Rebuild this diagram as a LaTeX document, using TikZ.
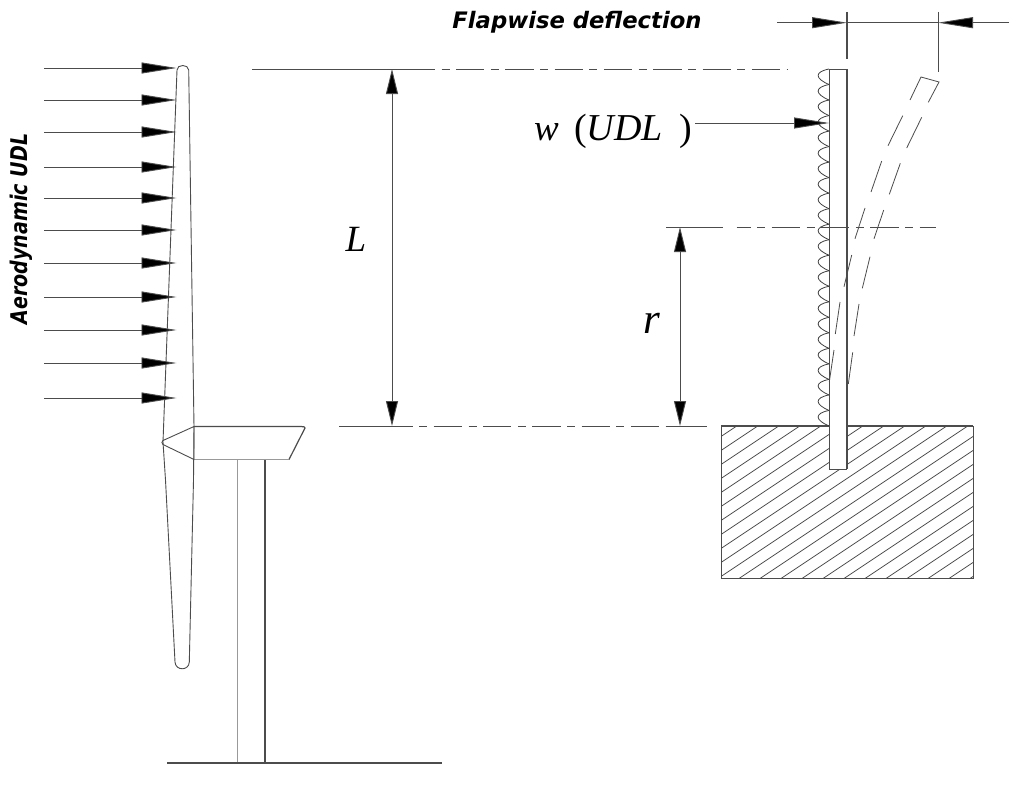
\documentclass[tikz,border=0pt]{standalone}
\usepackage{fontspec}
\setmainfont{Liberation Serif}
\newfontfamily\labelfont{DejaVu Sans}
\usetikzlibrary{arrows.meta}
\tikzset{
  thinline/.style={line width=0.9pt,black!70},
  lightline/.style={line width=1pt,black!40},
  boldline/.style={line width=1.2pt,black!70},
  headed/.style={thinline,-{Triangle[length=35pt,width=11pt,fill=black]}},
  twohead/.style={thinline,{Triangle[length=25pt,width=12pt,fill=black]}-{Triangle[length=25pt,width=12pt,fill=black]}},
  chain/.style={thinline,dash pattern=on 28.3pt off 6.5pt on 8pt off 6.5pt,dash phase=28.3pt},
  chainmid/.style={thinline,dash pattern=on 28.3pt off 6.5pt on 8pt off 6.5pt,dash phase=14.3pt},
  dashseg/.style={line width=0.8pt,black!70},
  serifit/.style={inner sep=0pt,font=\fontsize{37}{37}\selectfont\itshape},
  serifup/.style={inner sep=0pt,font=\fontsize{38}{38}\selectfont},
  boldit/.style={inner sep=0pt,font=\labelfont\bfseries\itshape\fontsize{22.7}{22.7}\selectfont},
  boldaero/.style={inner sep=0pt,font=\labelfont\bfseries\itshape\fontsize{23}{23}\selectfont},
}
\begin{document}
\begin{tikzpicture}[x=1pt,y=-1pt]
\useasboundingbox (0,0) rectangle (1024,784);
\fill[white] (0,0) rectangle (1024,784);
% ---- left: blade, hub, tower
\draw[thinline] (177,70) .. controls (177,64) and (188.5,64) .. (188.7,70) -- (194,427) -- (193.5,480) -- (189.3,662) .. controls (189,671) and (175.5,671) .. (175,662) -- (165.5,480) -- (163,442) -- cycle;
\draw[boldline] (194,426.5) -- (301,426.5) .. controls (304,426.5) and (305,427) .. (305,428) -- (289,459.5);
\draw[lightline] (289,459.5) -- (194,459.5);
\draw[thinline] (194,426.5) -- (194,459.5) -- (163,444.5) .. controls (161.5,443.5) and (161.5,441.5) .. (163,440.5) -- cycle;
\draw[lightline] (237,460) -- (237,763);
\draw[boldline] (265,460) -- (265,763);
\draw[boldline] (167,763) -- (442,763);
% wind arrows
\foreach \n/\yy in {a/68,b/100,c/132,d/167,e/198,f/230,g/263,h/297,i/330,j/363,k/398}{
  \coordinate (s\n) at (44,\yy);
  \coordinate (t\n) at (176.5,\yy);
  \draw[headed] (s\n) -- (t\n);
}
\node[boldaero,rotate=90,xscale=0.83] (aero) at (21.5,229) {Aerodynamic UDL};
% ---- centre dimensions
\coordinate (topL) at (252,69);
\coordinate (topJ) at (435,69);
\coordinate (topR) at (788,69);
\coordinate (botL) at (339,426);
\coordinate (botJ) at (412.7,426);
\coordinate (botK) at (659,426);
\coordinate (botM) at (665.7,426);
\coordinate (botR) at (706.7,426);
\draw[thinline] (topL) -- (topJ);
\draw[chain] (topJ) -- (topR);
\draw[thinline] (botL) -- (botJ);
\draw[chain] (botJ) -- (botK);
\draw[thinline] (botM) -- (botR);
\coordinate (Lt) at (392,69);
\coordinate (Lb) at (392,426);
\draw[twohead] (Lt) -- (Lb);
\coordinate (rt) at (680,227);
\coordinate (rb) at (680,426);
\draw[twohead] (rt) -- (rb);
\node[serifit] (L) at (356,239) {L};
\node[serifit,font=\fontsize{43}{43}\selectfont\itshape,anchor=base] (r) at (652,333) {r};
\node[serifit,anchor=base west] (w) at (534,140) {w};
\node[serifup,anchor=base west] (paren) at (574,140) {(\textit{UDL}\hspace{17pt})};
% ---- hatched block
\begin{scope}
\clip (721,426) rectangle (973,578);
\foreach \k in {7,...,31}{
  \draw[line width=0.8pt,black!70] ({736.7+21*(\k-8)},426) -- ++(-330,220);
}
\end{scope}
\draw[thinline] (721,426) rectangle (973,578);
\draw[boldline] (721,426) -- (973,426);
% ---- straight blade
\node[draw=none,fill=white,minimum width=18pt,minimum height=400pt,inner sep=0pt,anchor=north west] (blade) at (829,69) {};
\draw[thinline] (829,69) -- (847,69);
\draw[thinline] (829,69) -- (829,469) -- (847,469);
\draw[boldline] (847,69) -- (847,469);
\coordinate (midL) at (666,227);
\coordinate (midJ) at (722.7,227);
\coordinate (midK) at (736.7,227);
\coordinate (midR) at (936,227);
\draw[thinline] (midL) -- (midJ);
\draw[chainmid] (midK) -- (midR);
% scallops
\foreach \i in {0,...,22}{
  \pgfmathsetmacro{\ya}{69+15.52*\i}
  \pgfmathsetmacro{\yb}{69+15.52*(\i+1)}
  \draw[line width=0.8pt,black!75] (829,\ya) .. controls (814,{\ya+3}) and (815,{\yb-6}) .. (829,\yb);
}
% ---- deflected blade (dashed)
\draw[dashseg] (910,100) -- (921,77) -- (939,82) -- (928.3,102.3);
\foreach \ax/\ay/\bx/\by in {902.7/115.7/888/145.7,881.7/161/871/192,865/208/855/238.7,851.7/255/844/286.7,840/302/835.3/334,834/350/829.3/381.7,
921.7/117.3/906.7/148,900.3/163.3/889.3/194.3,883.7/210/874/238.7,870/256.7/862.3/288.3,859/304/854/336,852.7/352.3/848.3/384}{
  \draw[dashseg] (\ax,\ay) -- (\bx,\by);
}
% ---- flapwise dimension
\coordinate (fa) at (847,12); \coordinate (fb) at (847,59);
\coordinate (ga) at (938,12); \coordinate (gb) at (938,72);
\draw[boldline] (fa) -- (fb);
\draw[thinline] (ga) -- (gb);
\coordinate (da) at (777,22.7); \coordinate (db) at (847,22.7);
\coordinate (dc) at (1009,22.7); \coordinate (dd) at (938,22.7);
\draw[headed] (da) -- (db);
\draw[headed] (dc) -- (dd);
\draw[boldline] (db) -- (dd);
\node[boldit] (flap) at (577,22) {Flapwise deflection};
% ---- w arrow
\coordinate (wa) at (695,123); \coordinate (wb) at (829,123);
\draw[headed] (wa) -- (wb);
\end{tikzpicture}
\end{document}
